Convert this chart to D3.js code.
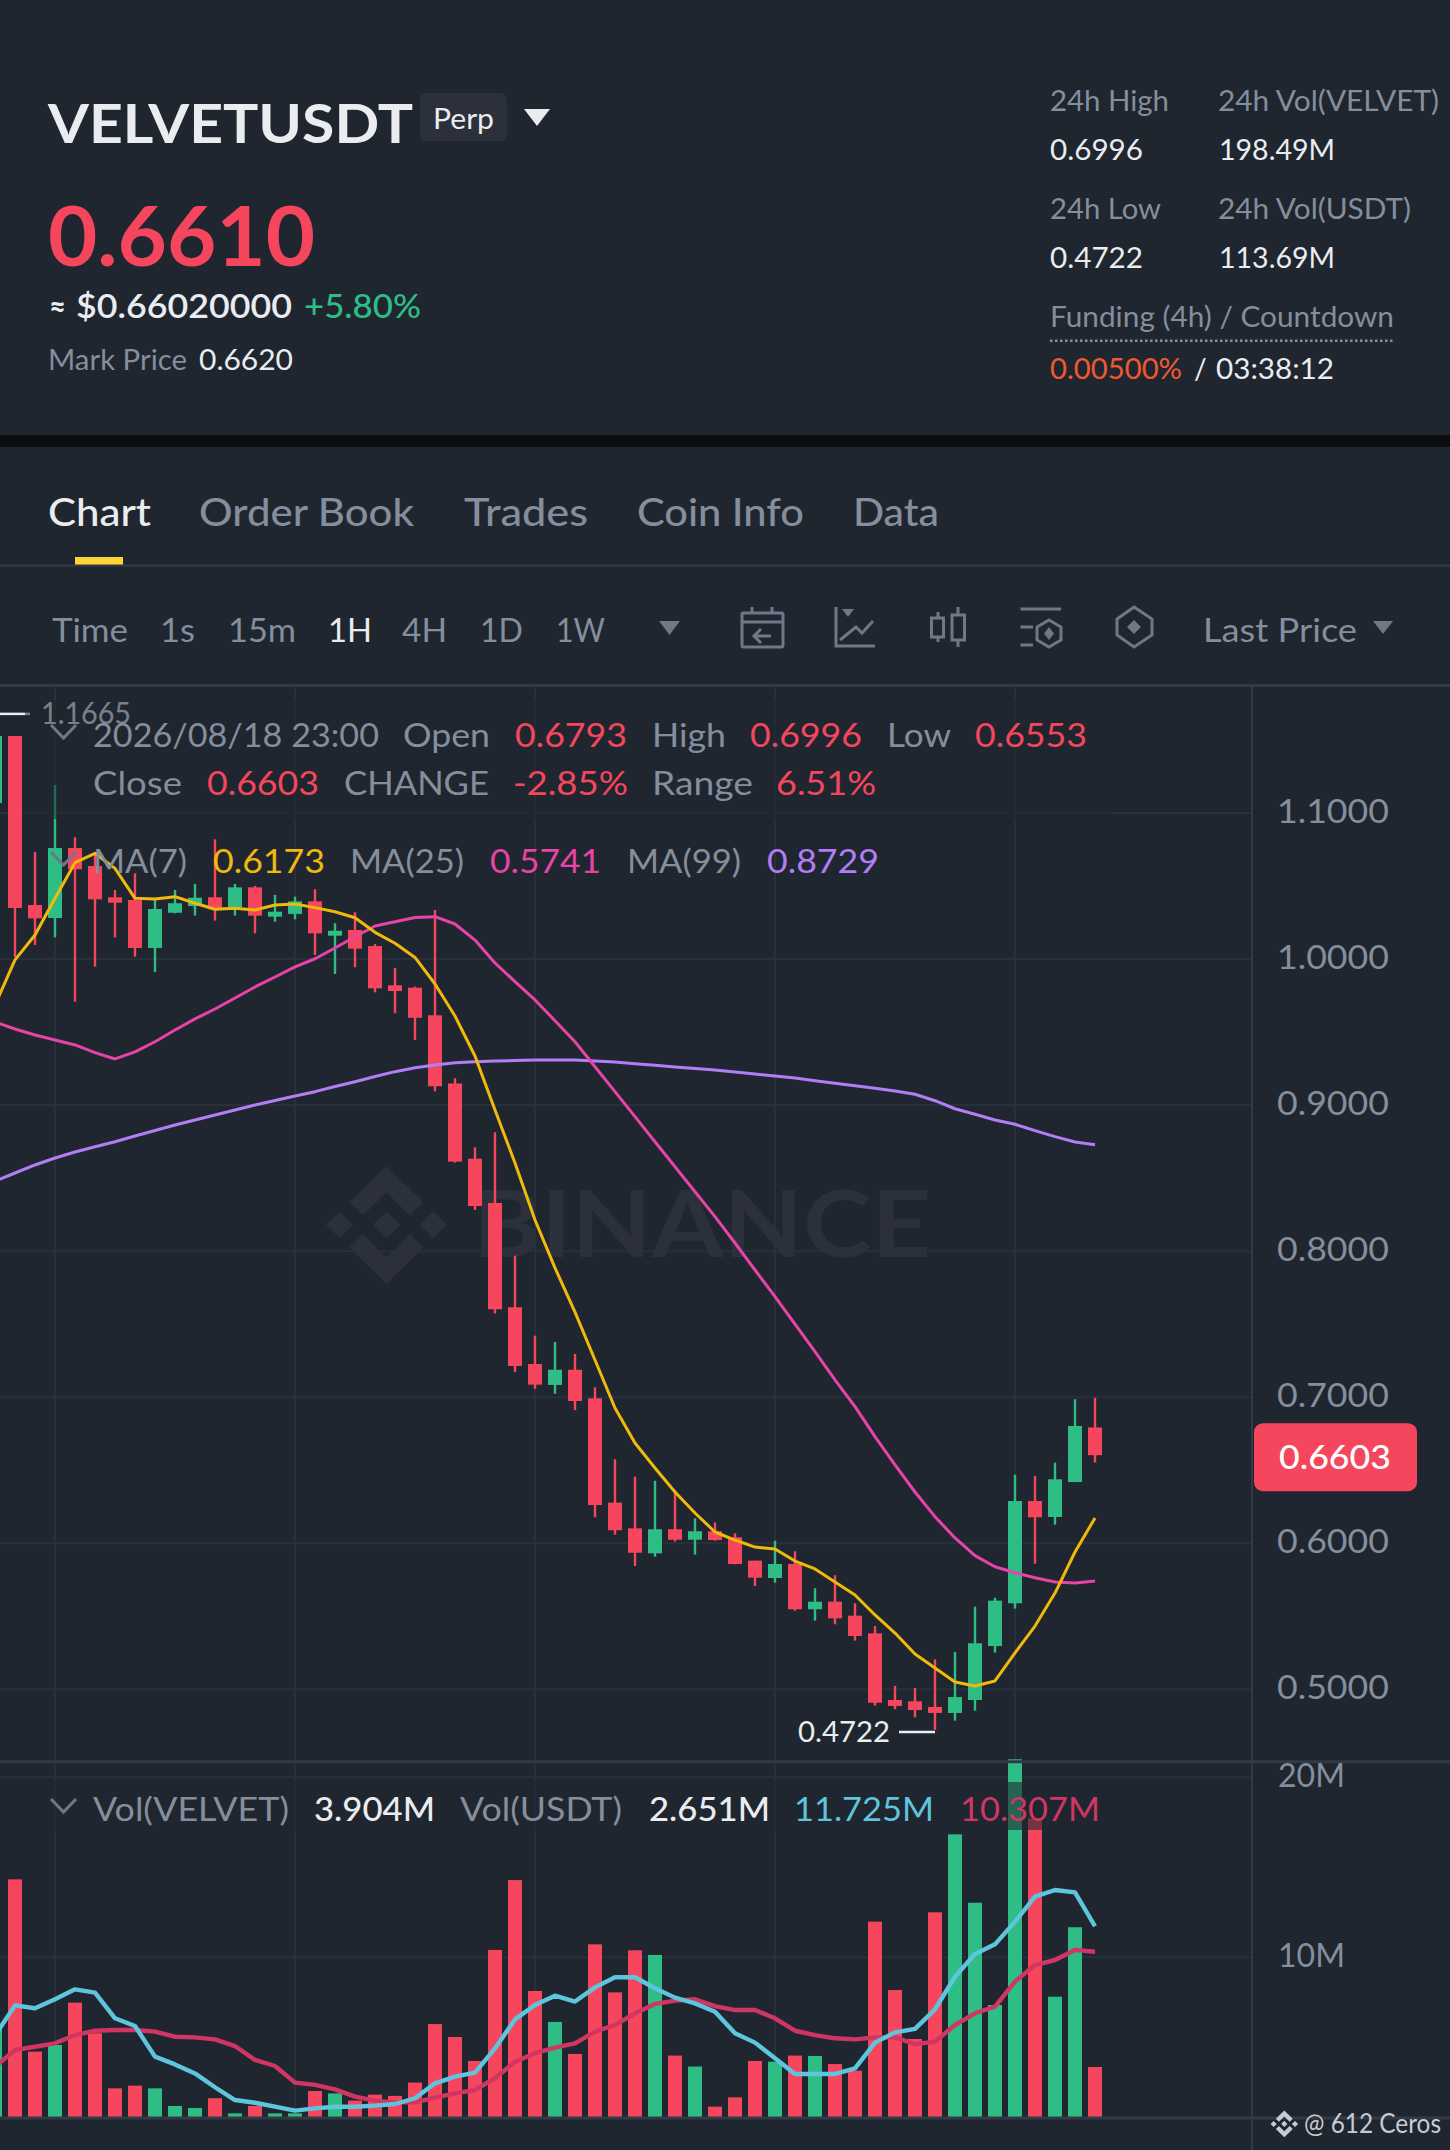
<!DOCTYPE html>
<html>
<head>
<meta charset="utf-8">
<title>VELVETUSDT</title>
<script src="https://cdn.jsdelivr.net/npm/d3@7"></script>
<style>
html, body { margin: 0; padding: 0; background: #1f2630; }
svg { display: block; }
text { font-family: Lato, "Open Sans", sans-serif; }
</style>
</head>
<body>
<div id="chart"></div>
<script>
//hourly candles, left to right
var candleOpen = [1.1068,1.1527,1.0370,1.0281,1.0760,1.0637,1.0423,1.0404,1.0076,1.0317,1.0363,1.0423,1.0354,1.0491,1.0290,1.0309,1.0395,1.0160,1.0199,1.0089,0.9820,0.9804,0.9615,0.9148,0.8633,0.8330,0.7616,0.7227,0.7084,0.7188,0.6992,0.6278,0.6102,0.5931,0.6096,0.6024,0.6082,0.6041,0.5881,0.5762,0.5858,0.5548,0.5600,0.5504,0.5383,0.4927,0.4918,0.4879,0.4838,0.4927,0.5296,0.5589,0.6289,0.6180,0.6419,0.6793];
var candleHigh = [1.1665,1.1527,1.0733,1.1192,1.0834,1.0726,1.0473,1.0587,1.0404,1.0473,1.0514,1.0820,1.0514,1.0500,1.0439,1.0427,1.0478,1.0245,1.0320,1.0103,0.9939,0.9811,1.0336,0.9184,0.8711,0.8814,0.7969,0.7421,0.7378,0.7296,0.7068,0.6575,0.6456,0.6428,0.6365,0.6171,0.6143,0.6068,0.5881,0.6017,0.5945,0.5692,0.5781,0.5589,0.5433,0.5023,0.5009,0.5205,0.5255,0.5566,0.5627,0.6469,0.6460,0.6552,0.6986,0.6996];
var candleLow = [1.1068,1.0014,1.0096,1.0149,0.9708,0.9948,1.0149,1.0016,0.9911,1.0313,1.0297,1.0263,1.0297,1.0176,1.0256,1.0272,1.0028,0.9898,0.9944,0.9772,0.9629,0.9446,0.9095,0.8606,0.8282,0.7574,0.7173,0.7058,0.7024,0.6912,0.6178,0.6059,0.5844,0.5908,0.6011,0.5922,0.6017,0.5856,0.5707,0.5730,0.5538,0.5470,0.5445,0.5333,0.4888,0.4863,0.4808,0.4722,0.4785,0.4853,0.5251,0.5552,0.5860,0.6127,0.6419,0.6553];
var candleClose = [1.1527,1.0350,1.0279,1.0760,1.0615,1.0409,1.0386,1.0076,1.0343,1.0382,1.0420,1.0341,1.0491,1.0297,1.0324,1.0395,1.0176,1.0194,1.0071,0.9800,0.9781,0.9598,0.9129,0.8613,0.8309,0.7602,0.7214,0.7086,0.7188,0.6974,0.6262,0.6089,0.5935,0.6096,0.6024,0.6082,0.6022,0.5858,0.5764,0.5858,0.5548,0.5600,0.5486,0.5365,0.4908,0.4886,0.4858,0.4838,0.4947,0.5315,0.5607,0.6289,0.6178,0.6438,0.6803,0.6603];

var ma7 = [0.9685,0.9994,1.0165,1.0416,1.0660,1.0724,1.0621,1.0416,1.0411,1.0427,1.0382,1.0341,1.0348,1.0336,1.0370,1.0377,1.0352,1.0324,1.0283,1.0183,1.0108,1.0011,0.9829,0.9610,0.9336,0.8966,0.8604,0.8213,0.7885,0.7583,0.7255,0.6926,0.6686,0.6515,0.6351,0.6207,0.6077,0.6022,0.5974,0.5961,0.5878,0.5824,0.5735,0.5646,0.5509,0.5385,0.5242,0.5146,0.5050,0.5023,0.5057,0.5249,0.5433,0.5659,0.5940,0.6173];
var ma25 = [0.9569,0.9521,0.9480,0.9446,0.9412,0.9359,0.9316,0.9364,0.9434,0.9514,0.9590,0.9658,0.9733,0.9809,0.9877,0.9946,1.0002,1.0076,1.0153,1.0226,1.0256,1.0284,1.0290,1.0240,1.0130,0.9973,0.9845,0.9720,0.9578,0.9434,0.9263,0.9092,0.8921,0.8749,0.8578,0.8407,0.8236,0.8056,0.7871,0.7688,0.7501,0.7312,0.7118,0.6935,0.6730,0.6536,0.6351,0.6182,0.6036,0.5915,0.5839,0.5798,0.5764,0.5735,0.5728,0.5741];
var ma99 = [0.8480,0.8535,0.8590,0.8638,0.8679,0.8715,0.8749,0.8788,0.8826,0.8864,0.8898,0.8932,0.8966,0.9001,0.9032,0.9062,0.9092,0.9127,0.9160,0.9196,0.9229,0.9256,0.9275,0.9290,0.9297,0.9302,0.9305,0.9309,0.9309,0.9309,0.9302,0.9295,0.9283,0.9273,0.9261,0.9251,0.9240,0.9227,0.9213,0.9199,0.9186,0.9167,0.9149,0.9133,0.9115,0.9097,0.9074,0.9030,0.8975,0.8937,0.8898,0.8869,0.8825,0.8784,0.8747,0.8729];

//volumes in millions
var volume = [6.15,14.33,4.76,5.13,7.48,5.78,2.72,2.87,2.72,1.74,1.63,2.17,1.33,1.74,1.33,1.33,2.57,2.44,2.04,2.37,2.30,3.04,6.29,5.57,4.24,10.41,14.29,8.13,6.41,4.63,10.72,8.05,10.39,10.13,4.54,3.93,1.70,2.22,4.24,4.20,4.54,4.52,4.07,3.70,11.98,8.18,5.46,12.50,16.83,13.03,7.35,21.0,17.72,7.81,11.67,3.904];
var volMaFast = [5.66,7.33,7.17,7.67,8.22,8.04,6.61,6.18,4.48,4.05,3.55,2.78,2.07,1.92,1.70,1.48,1.61,1.70,1.70,1.76,1.85,2.17,3.00,3.37,3.59,4.94,6.55,7.35,7.87,7.54,8.33,8.89,8.89,8.28,7.76,7.44,6.98,5.78,5.26,4.39,3.52,3.52,3.52,3.83,5.26,5.83,6.02,7.11,8.92,10.18,10.72,11.98,13.37,13.74,13.61,11.725];
var volMaSlow = [3.92,4.85,5.03,5.22,5.68,5.92,5.96,5.96,5.87,5.59,5.55,5.44,5.07,4.30,3.96,3.04,2.91,2.66,2.26,2.04,1.94,1.94,2.20,2.44,2.63,3.28,4.20,4.67,4.98,5.22,5.87,6.24,6.89,7.41,7.59,7.67,7.29,7.07,7.07,6.61,5.92,5.68,5.50,5.44,5.55,5.55,5.18,5.31,6.24,6.89,7.26,8.65,9.57,9.85,10.41,10.307];

var priceTicks = [1.1, 1.0, 0.9, 0.8, 0.7, 0.6, 0.5];
var volTicks = [10, 20];
var tabs = ["Chart", "Order Book", "Trades", "Coin Info", "Data"];
var tabX = [48, 199, 464, 637, 853];
var tabW = [103, 215, 124, 167, 86];
var intervals = ["Time", "1s", "15m", "1H", "4H", "1D", "1W"];
var intervalX = [52, 160, 228, 328, 402, 480, 556];
var intervalW = [76, 35, 68, 44, 45, 43, 49];

var bg = "#1f2630", up = "#2ebd85", down = "#f6465d", gray = "#848e9c", white = "#eaecef",
    gridc = "#2a303b", sepc = "#333a47", iconc = "#6f7887";

var w = 1450, h = 2150, axisX = 1252;

var svg = d3.select("#chart").append("svg")
    .attr("width", w)
    .attr("height", h);

svg.append("rect").attr("width", w).attr("height", h).attr("fill", bg);

//scales, index -> candle centre, one candle is 20px
var x = d3.scaleLinear().domain([0, 55]).range([-5, 1095]);
var y = d3.scaleLinear().domain([0.5, 1.1]).range([1689.3, 813]);
var yVol = d3.scaleLinear().domain([10, 20]).range([1957.3, 1777.3]);
var volBase = 2117;

//small helper for text
function label(g, px, py, str, size, color, weight, len) {
    var t = g.append("text")
        .attr("x", px).attr("y", py)
        .attr("font-size", size)
        .attr("fill", color)
        .attr("font-weight", weight || 400)
        .text(str);
    if (len) t.attr("textLength", len).attr("lengthAdjust", "spacingAndGlyphs");
    return t;
}

//header
var head = svg.append("g");
label(head, 48, 143.3, "VELVETUSDT", 54, white, 700, 365);
head.append("rect").attr("x", 420).attr("y", 93).attr("width", 87).attr("height", 48)
    .attr("rx", 6).attr("fill", "#2b303b");
label(head, 433, 129, "Perp", 28, white, 400, 61);
head.append("path").attr("d", "M524,109H550L537,126Z").attr("fill", white);
label(head, 48, 265.5, "0.6610", 82, down, 700, 267);
label(head, 49, 318, "≈", 33, white, 700, 17);
label(head, 76, 318, "$0.66020000", 33, white, 600, 216);
label(head, 304, 318, "+5.80%", 33, up, 500, 117);
label(head, 48, 369.5, "Mark Price", 28, gray, 400, 139);
label(head, 199, 369.5, "0.6620", 28, white, 400, 94);

label(head, 1050, 110.7, "24h High", 28, gray, 400, 119);
label(head, 1218, 110.7, "24h Vol(VELVET)", 28, gray, 400, 221);
label(head, 1050, 160, "0.6996", 28, white, 400, 93);
label(head, 1219, 160, "198.49M", 28, white, 400, 116);
label(head, 1050, 218.5, "24h Low", 28, gray, 400, 111);
label(head, 1218, 218.5, "24h Vol(USDT)", 28, gray, 400, 193);
label(head, 1050, 268, "0.4722", 28, white, 400, 93);
label(head, 1219, 268, "113.69M", 28, white, 400, 116);
label(head, 1050, 327, "Funding (4h) / Countdown", 28, gray, 400, 344);
head.append("line").attr("x1", 1050).attr("x2", 1395).attr("y1", 340.7).attr("y2", 340.7)
    .attr("stroke", gray).attr("stroke-width", 2.5).attr("stroke-dasharray", "2.5 2.5");
label(head, 1050, 378.5, "0.00500%", 28, "#f0592f", 400, 132);
label(head, 1194, 378.5, "/", 28, white, 400);
label(head, 1216, 378.5, "03:38:12", 28, white, 400, 118);

svg.append("rect").attr("x", 0).attr("y", 435).attr("width", w).attr("height", 12).attr("fill", "#0b0e11");

//tabs
var tabG = svg.append("g");
tabs.forEach(function(d, i) {
    label(tabG, tabX[i], 525.5, d, 38, i == 0 ? white : gray, 500, tabW[i]);
});
tabG.append("rect").attr("x", 75).attr("y", 557).attr("width", 48).attr("height", 8).attr("fill", "#fcd535");
tabG.append("line").attr("x1", 0).attr("x2", w).attr("y1", 565.5).attr("y2", 565.5)
    .attr("stroke", sepc).attr("stroke-width", 2);

//interval row
var bar = svg.append("g");
intervals.forEach(function(d, i) {
    label(bar, intervalX[i], 641.7, d, 33, d == "1H" ? white : gray, 400, intervalW[i]);
});
bar.append("path").attr("d", "M659,621H680L669.5,635Z").attr("fill", iconc);
label(bar, 1203, 641.7, "Last Price", 33, gray, 400, 154);
bar.append("path").attr("d", "M1373,621H1393L1383,634Z").attr("fill", iconc);

var icons = bar.append("g").attr("fill", "none").attr("stroke", iconc).attr("stroke-width", 3);
//calendar
icons.append("rect").attr("x", 742).attr("y", 613).attr("width", 41).attr("height", 34).attr("rx", 1.5);
icons.append("path").attr("d", "M742,622H783M752,607V613M772,607V613M771,636H755M761,629L754,636L761,643");
//line chart
icons.append("path").attr("d", "M836,607V646H875M840,640L856,627L862,633L873,621");
icons.append("path").attr("d", "M842,609H854L848,617Z").attr("fill", iconc).attr("stroke", "none");
//candles
icons.append("path").attr("d", "M938,612V618M938,637V642M958,607V615M958,640V647");
icons.append("rect").attr("x", 931.5).attr("y", 618).attr("width", 12).attr("height", 19);
icons.append("rect").attr("x", 952).attr("y", 615).attr("width", 12.5).attr("height", 25);
//settings rows
icons.append("path").attr("d", "M1020.5,609H1061M1020.5,627H1033M1020.5,645H1033M1049,620L1061,627V640L1049,647L1037,640V627Z");
icons.append("path").attr("d", "M1049,627L1054,633.5L1049,640L1044,633.5Z").attr("fill", iconc).attr("stroke", "none");
//hexagon
icons.append("path").attr("d", "M1134,607L1152,619V635L1134,647L1117,635V619Z");
icons.append("path").attr("d", "M1134,620L1141,627L1134,634L1127,627Z").attr("fill", iconc).attr("stroke", "none");

//panes
var grid = svg.append("g");
var vLines = d3.range(3, 56, 12);
grid.selectAll(".v").data(vLines).enter().append("line")
    .attr("x1", function(d) { return x(d); }).attr("x2", function(d) { return x(d); })
    .attr("y1", 686).attr("y2", 2118)
    .attr("stroke", gridc).attr("stroke-width", 2);
grid.selectAll(".p").data(priceTicks).enter().append("line")
    .attr("x1", 0).attr("x2", axisX)
    .attr("y1", function(d) { return y(d); }).attr("y2", function(d) { return y(d); })
    .attr("stroke", gridc).attr("stroke-width", 2);
grid.selectAll(".q").data(volTicks).enter().append("line")
    .attr("x1", 0).attr("x2", axisX)
    .attr("y1", function(d) { return yVol(d); }).attr("y2", function(d) { return yVol(d); })
    .attr("stroke", gridc).attr("stroke-width", 2);

//watermark
var logoParts = ["M38.73 53.2l24.59-24.58 24.6 24.6 14.3-14.31L63.32 0 24.43 38.9z",
    "M0 63.31l14.3-14.31 14.31 14.31-14.31 14.3z",
    "M38.73 73.41l24.59 24.59 24.6-24.6 14.31 14.29-38.9 38.91-38.91-38.88z",
    "M98 63.31l14.3-14.31 14.31 14.3-14.31 14.32z",
    "M77.83 63.3L63.32 48.78 52.59 59.51l-1.24 1.23-2.54 2.54 14.51 14.5 14.51-14.47z"];
function logo(px, py, sx, sy, color) {
    var g = svg.append("g").attr("transform", "translate(" + px + "," + py + ") scale(" + sx + "," + sy + ")");
    logoParts.forEach(function(d) { g.append("path").attr("d", d).attr("fill", color); });
}
logo(326, 1166, 0.955, 0.93, "#2b303b");
label(svg, 473, 1256.7, "BINANCE", 92, "#2b303b", 700, 458);

//volume bars
var idx = d3.range(candleOpen.length);
function colour(i) { return candleClose[i] >= candleOpen[i] ? up : down; }
svg.append("g").selectAll("rect").data(idx).enter().append("rect")
    .attr("x", function(i) { return x(i) - 7; })
    .attr("width", 14)
    .attr("y", function(i) { return yVol(volume[i]); })
    .attr("height", function(i) { return volBase - yVol(volume[i]); })
    .attr("fill", colour);

//candles
var candles = svg.append("g");
candles.selectAll("line").data(idx).enter().append("line")
    .attr("x1", function(i) { return x(i); }).attr("x2", function(i) { return x(i); })
    .attr("y1", function(i) { return y(candleHigh[i]); })
    .attr("y2", function(i) { return y(candleLow[i]); })
    .attr("stroke", colour).attr("stroke-width", 2.4);
candles.selectAll("rect").data(idx).enter().append("rect")
    .attr("x", function(i) { return x(i) - 7; })
    .attr("width", 14)
    .attr("y", function(i) { return y(Math.max(candleOpen[i], candleClose[i])); })
    .attr("height", function(i) { return Math.abs(y(candleOpen[i]) - y(candleClose[i])); })
    .attr("fill", colour);

//moving averages
function priceLine(series, color) {
    svg.append("path").datum(series)
        .attr("fill", "none").attr("stroke", color).attr("stroke-width", 3)
        .attr("stroke-linejoin", "round")
        .attr("d", d3.line().x(function(d, i) { return x(i); }).y(function(d) { return y(d); }));
}
priceLine(ma99, "#b17ef5");
priceLine(ma25, "#e843a6");
priceLine(ma7, "#f0b90b");

function volLine(series, color) {
    svg.append("path").datum(series)
        .attr("fill", "none").attr("stroke", color).attr("stroke-width", 4.4)
        .attr("stroke-linejoin", "round")
        .attr("d", d3.line().x(function(d, i) { return x(i); }).y(function(d) { return yVol(d); }));
}
volLine(volMaSlow, "#d13663");
volLine(volMaFast, "#5ec5dc");

//high and low markers
var hiLo = svg.append("g");
hiLo.append("line").attr("x1", 0).attr("x2", 30)
    .attr("y1", y(d3.max(candleHigh)) - 2).attr("y2", y(d3.max(candleHigh)) - 2)
    .attr("stroke", white).attr("stroke-width", 2.5);
label(hiLo, 41, y(d3.max(candleHigh)) + 8, d3.format(".4f")(d3.max(candleHigh)), 30, white, 400, 90);
var lowest = d3.min(candleLow);
hiLo.append("line").attr("x1", 899).attr("x2", x(candleLow.indexOf(lowest)))
    .attr("y1", y(lowest) + 2).attr("y2", y(lowest) + 2)
    .attr("stroke", white).attr("stroke-width", 2.5);
label(hiLo, 798, 1741.7, d3.format(".4f")(lowest), 29, white, 400, 92);

//legend backdrops dim what is underneath
svg.append("rect").attr("x", 25).attr("y", 700).attr("width", 1085).attr("height", 119)
    .attr("fill", bg).attr("fill-opacity", 0.55);
svg.append("rect").attr("x", 40).attr("y", 1782).attr("width", 1070).attr("height", 48)
    .attr("fill", bg).attr("fill-opacity", 0.6);

//legends
function chevron(g, py) {
    g.append("path").attr("d", "M51," + py + "L63.5," + (py + 13) + "L76," + py)
        .attr("fill", "none").attr("stroke", iconc).attr("stroke-width", 3);
}
var leg = svg.append("g");
chevron(leg, 725);
chevron(leg, 852);
chevron(leg, 1799);
var r1 = 746.7, r2 = 795, r3 = 872.7, r4 = 1820.5;
label(leg, 93, r1, "2026/08/18 23:00", 33, gray, 400, 286);
label(leg, 403, r1, "Open", 33, gray, 400, 87);
label(leg, 515, r1, "0.6793", 33, down, 400, 112);
label(leg, 652, r1, "High", 33, gray, 400, 74);
label(leg, 750, r1, "0.6996", 33, down, 400, 112);
label(leg, 887, r1, "Low", 33, gray, 400, 64);
label(leg, 975, r1, "0.6553", 33, down, 400, 112);
label(leg, 93, r2, "Close", 33, gray, 400, 89);
label(leg, 207, r2, "0.6603", 33, down, 400, 112);
label(leg, 344, r2, "CHANGE", 33, gray, 400, 145);
label(leg, 513, r2, "-2.85%", 33, down, 400, 115);
label(leg, 652, r2, "Range", 33, gray, 400, 101);
label(leg, 776, r2, "6.51%", 33, down, 400, 100);
label(leg, 93, r3, "MA(7)", 33, gray, 400, 94);
label(leg, 213, r3, "0.6173", 33, "#f0b90b", 400, 112);
label(leg, 350, r3, "MA(25)", 33, gray, 400, 114);
label(leg, 490, r3, "0.5741", 33, "#e843a6", 400, 111);
label(leg, 627, r3, "MA(99)", 33, gray, 400, 114);
label(leg, 767, r3, "0.8729", 33, "#b17ef5", 400, 112);
label(leg, 93, r4, "Vol(VELVET)", 33, gray, 400, 196);
label(leg, 314, r4, "3.904M", 33, white, 500, 121);
label(leg, 460, r4, "Vol(USDT)", 33, gray, 400, 162);
label(leg, 649, r4, "2.651M", 33, white, 500, 121);
label(leg, 794, r4, "11.725M", 33, "#5ec5dc", 400, 140);
label(leg, 960, r4, "10.307M", 33, "#d13663", 400, 140);

//separators drawn last
var sep = svg.append("g").attr("stroke", sepc);
sep.append("line").attr("x1", 0).attr("x2", w).attr("y1", 685.5).attr("y2", 685.5).attr("stroke-width", 3);
sep.append("line").attr("x1", 0).attr("x2", w).attr("y1", 1761.7).attr("y2", 1761.7).attr("stroke-width", 3);
sep.append("line").attr("x1", 0).attr("x2", w).attr("y1", 2118).attr("y2", 2118).attr("stroke-width", 3);
sep.append("line").attr("x1", axisX).attr("x2", axisX).attr("y1", 686).attr("y2", h).attr("stroke-width", 2);

//axes
var priceAxis = d3.axisRight(y).tickValues(priceTicks).tickSize(0).tickPadding(0).tickFormat(d3.format(".4f"));
var gp = svg.append("g").attr("transform", "translate(1277,-1)").call(priceAxis);
gp.select(".domain").remove();
gp.selectAll("text").attr("font-size", 33).attr("fill", gray).attr("font-family", "Lato, sans-serif")
    .attr("textLength", 112).attr("lengthAdjust", "spacingAndGlyphs");

var volAxis = d3.axisRight(yVol).tickValues(volTicks).tickSize(0).tickPadding(0).tickFormat(function(d) { return d + "M"; });
var gv = svg.append("g").attr("transform", "translate(1278,-1)").call(volAxis);
gv.select(".domain").remove();
gv.selectAll("text").attr("font-size", 33).attr("fill", gray).attr("font-family", "Lato, sans-serif")
    .attr("textLength", 67).attr("lengthAdjust", "spacingAndGlyphs");

//last price tag
var last = candleClose[candleClose.length - 1];
svg.append("rect").attr("x", 1254).attr("y", y(last) - 32).attr("width", 163).attr("height", 68)
    .attr("rx", 9).attr("fill", down);
label(svg, 1279, y(last) + 13.5, d3.format(".4f")(last), 33, "#ffffff", 500, 112);

//bottom mark
logo(1270.5, 2110.5, 0.218, 0.212, "#c8ccd2");
label(svg, 1304, 2132.7, "@ 612 Ceros", 26, "#c8ccd2", 400, 137);
</script>
</body>
</html>
